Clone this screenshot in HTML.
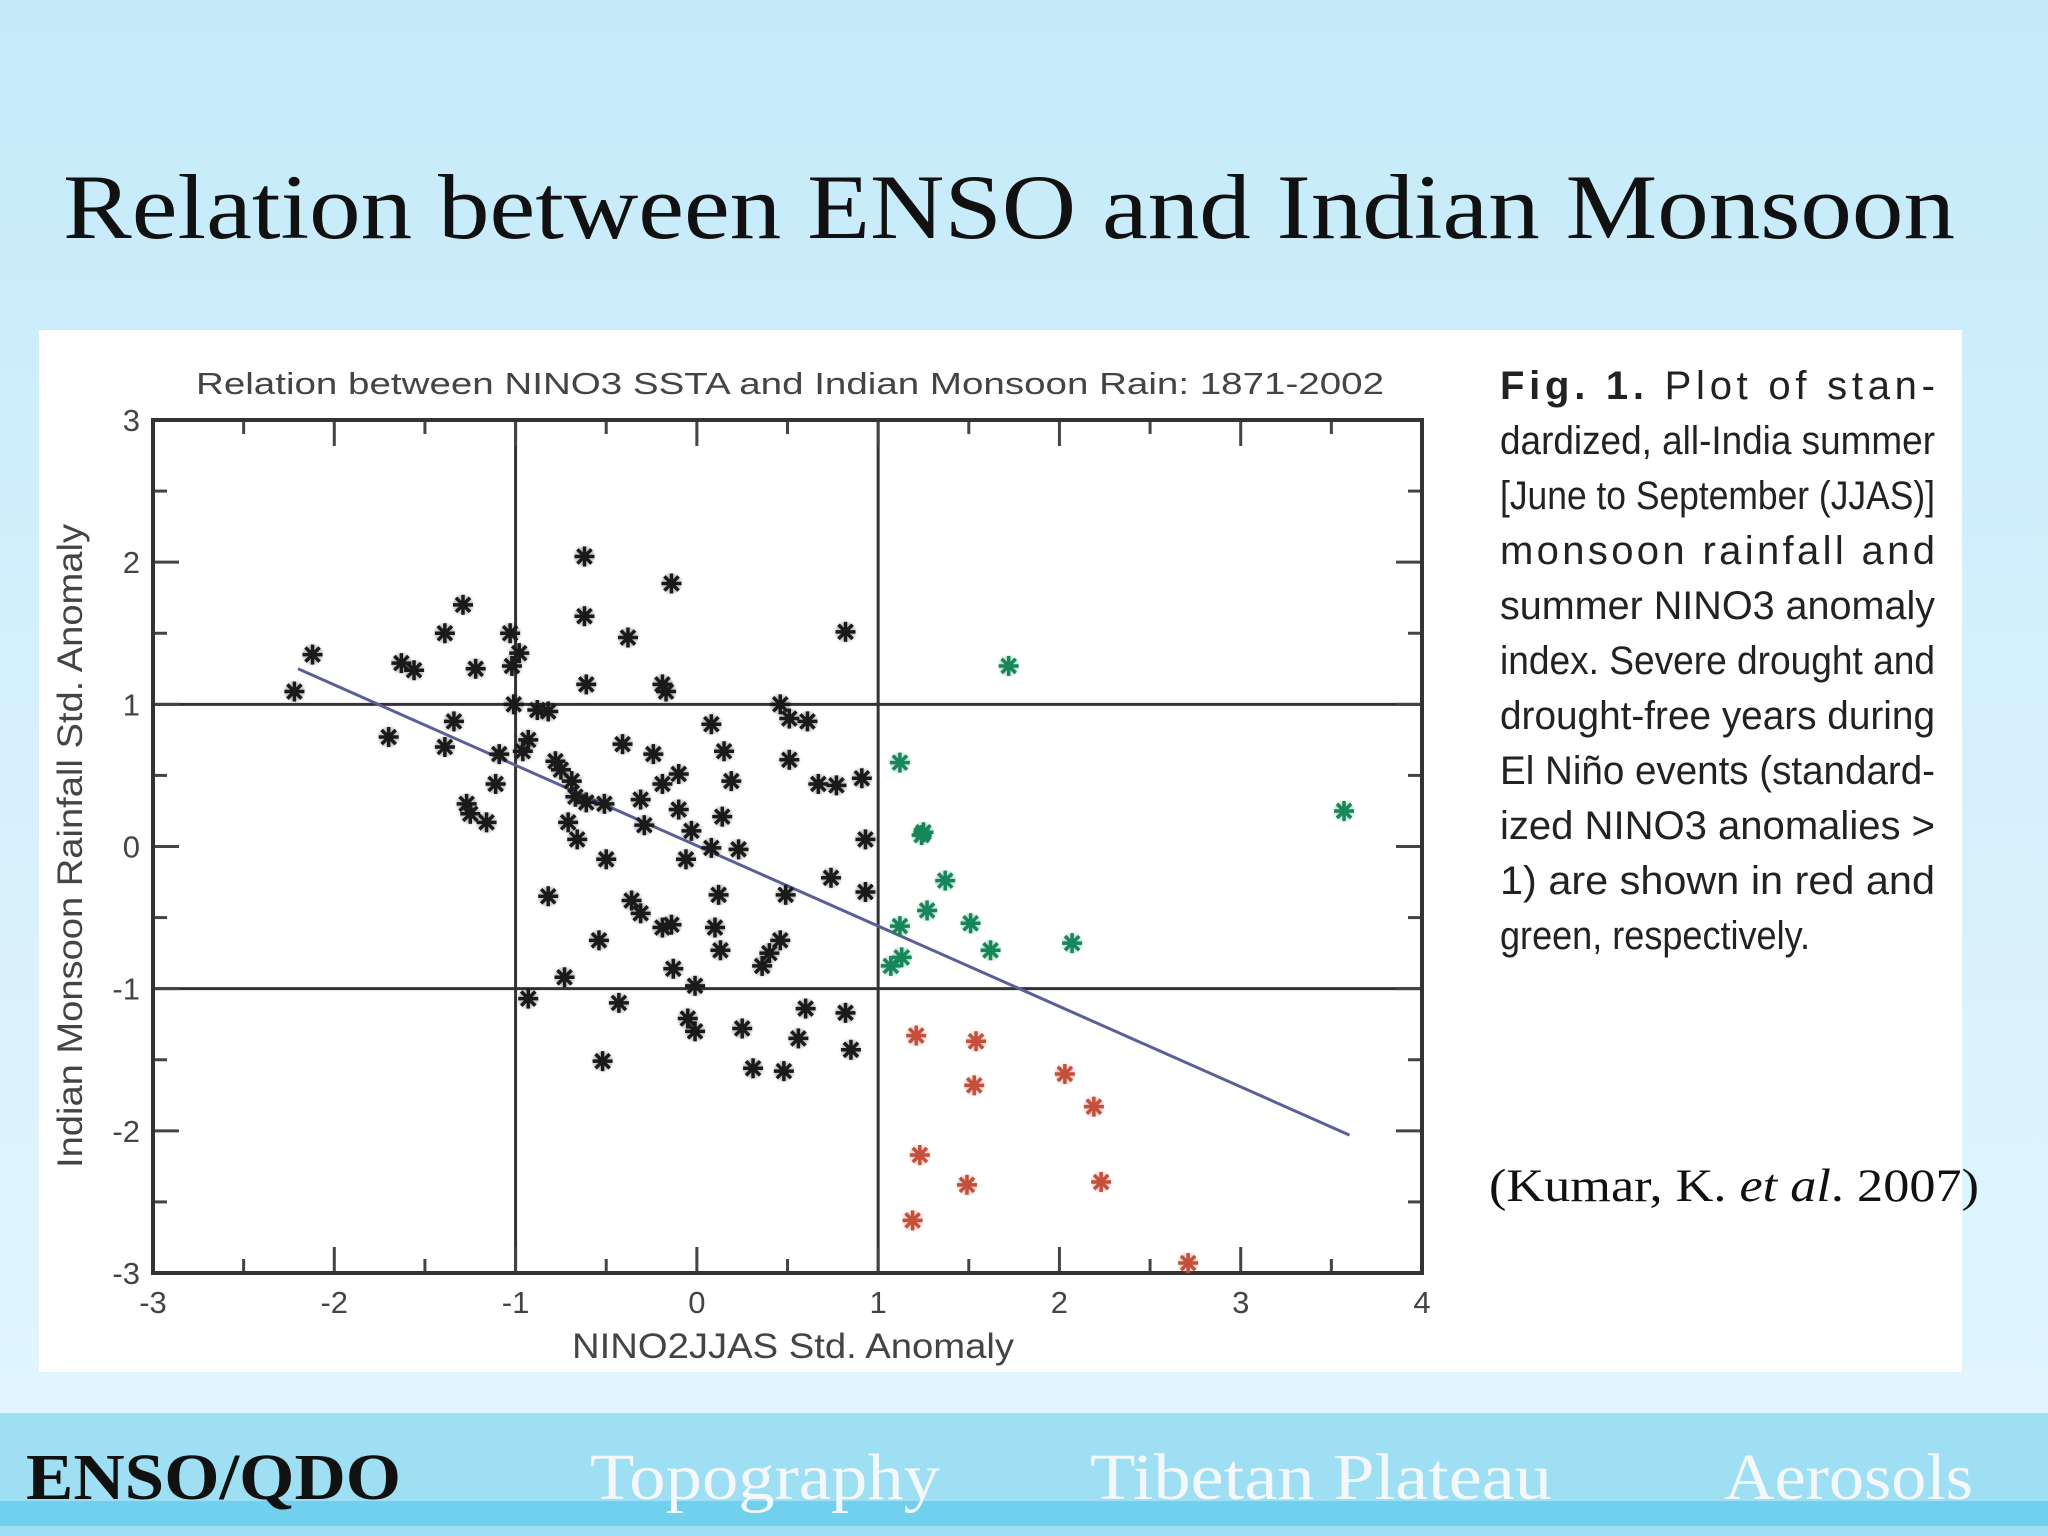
<!DOCTYPE html>
<html><head><meta charset="utf-8"><style>
html,body{margin:0;padding:0;width:2048px;height:1536px;overflow:hidden}
svg{display:block}
</style></head><body>
<svg id="s" width="2048" height="1536" viewBox="0 0 2048 1536" xmlns="http://www.w3.org/2000/svg">
<defs>
<linearGradient id="bg" x1="0" y1="0" x2="0" y2="1">
<stop offset="0" stop-color="#c4eafa"/><stop offset="0.5" stop-color="#d6f1fc"/><stop offset="1" stop-color="#e2f6fd"/>
</linearGradient>
<filter id="blur"><feGaussianBlur stdDeviation="1.2"/></filter>
</defs>
<rect width="2048" height="1536" fill="url(#bg)"/>
<text x="63" y="238" font-family="Liberation Serif, serif" font-size="92" fill="#111" textLength="1892" lengthAdjust="spacingAndGlyphs">Relation between ENSO and Indian Monsoon</text>
<rect x="39" y="330" width="1923" height="1042" fill="#fff"/>
<text x="196" y="394" font-family="Liberation Sans, sans-serif" font-size="31" fill="#444" textLength="1188" lengthAdjust="spacingAndGlyphs">Relation between NINO3 SSTA and Indian Monsoon Rain:  1871-2002</text>
<g id="chart"></g>
<text x="793" y="1358" text-anchor="middle" font-family="Liberation Sans, sans-serif" font-size="35" fill="#444" textLength="442" lengthAdjust="spacingAndGlyphs">NINO2JJAS Std. Anomaly</text>
<text transform="translate(82,846) rotate(-90)" text-anchor="middle" font-family="Liberation Sans, sans-serif" font-size="35" fill="#444" textLength="644" lengthAdjust="spacingAndGlyphs">Indian Monsoon Rainfall Std. Anomaly</text>
<g font-family="Liberation Sans Narrow, Liberation Sans, sans-serif" font-size="40" fill="#222">
<text x="1500" y="399" textLength="435" lengthAdjust="spacing"><tspan font-weight="bold">Fig.  1.</tspan>  Plot  of  stan-</text>
<text x="1500" y="454" textLength="435" lengthAdjust="spacingAndGlyphs">dardized, all-India summer</text>
<text x="1500" y="509" textLength="435" lengthAdjust="spacingAndGlyphs">[June to September (JJAS)]</text>
<text x="1500" y="564" textLength="435" lengthAdjust="spacing">monsoon   rainfall   and</text>
<text x="1500" y="619" textLength="435" lengthAdjust="spacingAndGlyphs">summer  NINO3  anomaly</text>
<text x="1500" y="674" textLength="435" lengthAdjust="spacingAndGlyphs">index. Severe drought and</text>
<text x="1500" y="729" textLength="435" lengthAdjust="spacingAndGlyphs">drought-free  years  during</text>
<text x="1500" y="784" textLength="435" lengthAdjust="spacingAndGlyphs">El  Niño  events  (standard-</text>
<text x="1500" y="839" textLength="435" lengthAdjust="spacingAndGlyphs">ized  NINO3  anomalies  &gt;</text>
<text x="1500" y="894" textLength="435" lengthAdjust="spacingAndGlyphs">1)  are  shown  in  red  and</text>
<text x="1500" y="949" textLength="310" lengthAdjust="spacingAndGlyphs">green,  respectively.</text>
</g>
<text x="1489" y="1201" font-family="Liberation Serif, serif" font-size="47" fill="#111" textLength="490" lengthAdjust="spacingAndGlyphs">(Kumar, K. <tspan font-style="italic">et al</tspan>. 2007)</text>
<rect x="0" y="1413" width="2048" height="123" fill="#9fdff4"/>
<rect x="0" y="1501" width="2048" height="25" fill="#72d0ef"/>
<g font-family="Liberation Serif, serif" font-size="66">
<text x="26" y="1499" font-weight="bold" fill="#111" textLength="375" lengthAdjust="spacingAndGlyphs">ENSO/QDO</text>
<text x="590" y="1499" fill="#f4f8fa" textLength="350" lengthAdjust="spacingAndGlyphs">Topography</text>
<text x="1090" y="1499" fill="#f4f8fa" textLength="462" lengthAdjust="spacingAndGlyphs">Tibetan Plateau</text>
<text x="1724" y="1499" fill="#f4f8fa" textLength="249" lengthAdjust="spacingAndGlyphs">Aerosols</text>
</g>
</svg>
<script>
const blackX=[-2.22,-2.12,-1.70,-1.63,-1.56,-1.39,-1.29,-1.39,-1.34,-1.22,-1.27,-1.25,-1.16,-1.11,-1.09,-1.03,-1.02,-0.98,-1.01,-0.96,-0.93,-0.88,-0.82,-0.78,-0.75,-0.69,-0.67,-0.71,-0.66,-0.62,-0.62,-0.61,-0.82,-0.73,-0.93,-0.52,-0.54,-0.50,-0.51,-0.43,-0.38,-0.41,-0.36,-0.31,-0.31,-0.29,-0.24,-0.19,-0.14,-0.19,-0.17,-0.19,-0.14,-0.10,-0.10,-0.06,-0.13,-0.03,-0.01,-0.05,-0.01,0.08,0.15,0.14,0.08,0.10,0.12,0.23,0.19,0.13,0.25,0.31,0.36,0.40,0.48,0.46,0.49,0.51,0.46,0.56,0.60,0.61,0.67,0.74,0.82,0.82,0.85,0.91,0.93,0.93,0.51,0.77,-0.61];
const blackY=[1.09,1.35,0.77,1.29,1.24,1.50,1.70,0.70,0.88,1.25,0.30,0.23,0.17,0.44,0.65,1.50,1.27,1.36,1.00,0.67,0.75,0.96,0.95,0.60,0.54,0.46,0.35,0.17,0.05,2.04,1.62,1.14,-0.35,-0.92,-1.07,-1.51,-0.66,-0.09,0.30,-1.10,1.47,0.72,-0.38,-0.47,0.33,0.15,0.65,0.44,1.85,1.14,1.09,-0.57,-0.55,0.51,0.26,-0.09,-0.86,0.11,-0.98,-1.21,-1.30,0.86,0.67,0.21,-0.01,-0.57,-0.34,-0.02,0.46,-0.73,-1.28,-1.56,-0.84,-0.75,-1.58,1.00,-0.34,0.61,-0.66,-1.35,-1.14,0.88,0.44,-0.22,1.51,-1.17,-1.43,0.48,0.05,-0.32,0.90,0.43,0.31];
const greenX=[1.12,1.25,1.24,1.37,1.27,1.12,1.13,1.07,1.51,1.62,1.72,2.07,3.57];
const greenY=[0.59,0.10,0.08,-0.24,-0.45,-0.56,-0.78,-0.84,-0.54,-0.73,1.27,-0.68,0.25];
const redX=[1.21,1.54,1.53,2.03,2.19,1.23,1.49,2.23,1.19,2.71];
const redY=[-1.33,-1.37,-1.68,-1.60,-1.83,-2.17,-2.38,-2.36,-2.63,-2.93];
const fitX=[-2.2,3.6];
const fitY=[1.25,-2.03];
const xTicks=[-3,-2,-1,0,1,2,3,4];
const yTicks=[3,2,1,0,-1,-2,-3];

const NS='http://www.w3.org/2000/svg';
const X0=153,X1=1422,Y0=420,Y1=1273;
const sx=v=>X0+(v-(-3))/(4-(-3))*(X1-X0);
const sy=v=>Y1-(v-(-3))/(3-(-3))*(Y1-Y0);
const g=document.getElementById('chart');
function mk(tag,attrs,parent){const e=document.createElementNS(NS,tag);for(const k in attrs)e.setAttribute(k,attrs[k]);(parent||g).appendChild(e);return e;}

[-1,1].forEach(v=>{const l=mk('line',{x1:sx(v),x2:sx(v),y1:Y0,y2:Y1,stroke:'#333','stroke-width':3});

});
[-1,1].forEach(v=>{const l=mk('line',{x1:X0,x2:X1,y1:sy(v),y2:sy(v),stroke:'#333','stroke-width':3});

});
for(let v=-3;v<=4;v+=0.5){const len=(v%1===0)?26:14;
 const t1=mk('line',{x1:sx(v),x2:sx(v),y1:Y1,y2:Y1-len,stroke:'#444','stroke-width':3});
 
 
 const t2=mk('line',{x1:sx(v),x2:sx(v),y1:Y0,y2:Y0+len,stroke:'#444','stroke-width':3});
 
 }
for(let v=-3;v<=3;v+=0.5){const len=(v%1===0)?26:14;
 const t1=mk('line',{x1:X0,x2:X0+len,y1:sy(v),y2:sy(v),stroke:'#444','stroke-width':3});
 
 
 const t2=mk('line',{x1:X1,x2:X1-len,y1:sy(v),y2:sy(v),stroke:'#444','stroke-width':3});
 
 }
const fr=mk('rect',{x:X0,y:Y0,width:X1-X0,height:Y1-Y0,fill:'none',stroke:'#333','stroke-width':4});


xTicks.forEach(v=>{const t=mk('text',{x:sx(v),y:1313,'text-anchor':'middle','font-family':'Liberation Sans, sans-serif','font-size':31,fill:'#444'});t.textContent=v;

});
yTicks.forEach(v=>{const t=mk('text',{x:140,y:sy(v)+11,'text-anchor':'end','font-family':'Liberation Sans, sans-serif','font-size':31,fill:'#444'});t.textContent=v;

});
const fl=mk('line',{x1:sx(fitX[0]),y1:sy(fitY[0]),x2:sx(fitX[1]),y2:sy(fitY[1]),stroke:'#5a5f9a','stroke-width':3});


function star(x,y,col,name){const gg=mk('g',{transform:`translate(${sx(x)},${sy(y)})`});
 
 
 mk('circle',{r:10,fill:col,opacity:0.25,filter:'url(#blur)'},gg);
 for(let a=0;a<180;a+=45){const r=a*Math.PI/180;mk('line',{x1:-10*Math.cos(r),y1:-10*Math.sin(r),x2:10*Math.cos(r),y2:10*Math.sin(r),stroke:col,'stroke-width':3.5},gg);}
 mk('circle',{r:4,fill:col},gg);}
blackX.forEach((v,i)=>star(v,blackY[i],'#1a1a1a','point-black'));
greenX.forEach((v,i)=>star(v,greenY[i],'#17865a','point-green'));
redX.forEach((v,i)=>star(v,redY[i],'#c4503c','point-red'));
</script>
</body></html>
